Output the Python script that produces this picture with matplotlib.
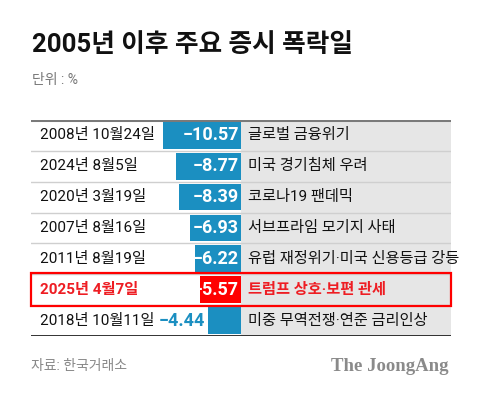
import matplotlib
matplotlib.use("Agg")
import matplotlib.pyplot as plt
from matplotlib.patches import Rectangle

plt.rcParams['font.family'] = ['Roboto', 'Noto Sans CJK KR', 'DejaVu Sans']

dates = ["2008년 10월24일", "2024년 8월5일", "2020년 3월19일", "2007년 8월16일",
         "2011년 8월19일", "2025년 4월7일", "2018년 10월11일"]
values = [-10.57, -8.77, -8.39, -6.93, -6.22, -5.57, -4.44]
events = ["글로벌 금융위기", "미국 경기침체 우려", "코로나19 팬데믹", "서브프라임 모기지 사태",
          "유럽 재정위기·미국 신용등급 강등", "트럼프 상호·보편 관세", "미중 무역전쟁·연준 금리인상"]
highlight = 5

blue = "#1b8fc1"
red = "#ff0000"
red_text = "#ee1d23"

fig = plt.figure(figsize=(4.8, 3.93), dpi=100)
fig.text(0.066, 0.885, "2005년 이후 주요 증시 폭락일", fontsize=18.5, fontweight="bold",
         va="center", ha="left", color="#111111")
fig.text(0.066, 0.797, "단위 : %", fontsize=10, va="center", ha="left", color="#777777")
fig.text(0.064, 0.068, "자료: 한국거래소", fontsize=10, va="center", ha="left", color="#888888")
fig.text(0.935, 0.068, "The JoongAng", fontsize=13.5, fontweight="bold", va="center",
         ha="right", color="#8a8a8a", family="Liberation Serif")

ax = fig.add_axes([0.0646, 0.145, 0.875, 0.55])
xmin, xmax = -28.4, 28.4
ax.set_xlim(xmin, xmax)
ax.set_ylim(len(values) - 0.5, -0.5)
ax.axis("off")

ax.axvspan(0, xmax, color="#e6e6e6", zorder=0)
for i in range(1, len(values)):
    ax.axhline(i - 0.5, color="#cfcfcf", lw=1.0, zorder=1)
ax.axhline(-0.5, color="#7a7a7a", lw=2.2, zorder=3)
ax.axhline(len(values) - 0.5, color="#111111", lw=1.2, zorder=3)

colors = [red if i == highlight else blue for i in range(len(values))]
ax.barh(range(len(values)), values, height=0.87, color=colors, zorder=2)

for i, (d, v, e) in enumerate(zip(dates, values, events)):
    hl = i == highlight
    tc = red_text if hl else "#111111"
    fw = "bold" if hl else "normal"
    ax.text(-27.2, i, d, fontsize=11, va="center", ha="left", color=tc, fontweight=fw)
    ax.text(0.95, i, e, fontsize=11, va="center", ha="left", color=tc, fontweight=fw)
    label = "\u2212" + f"{abs(v):.2f}"
    if abs(v) > 5:
        ax.text(-0.25, i, label, fontsize=13, va="center", ha="right", color="white",
                fontweight="bold")
    else:
        ax.text(v - 0.4, i, label, fontsize=13, va="center", ha="right", color=blue,
                fontweight="bold")

ax.add_patch(Rectangle((xmin + 0.05, highlight - 0.53), xmax - xmin - 0.1, 1.06,
                       fill=False, edgecolor=red, lw=1.6, zorder=4, clip_on=False))

fig.savefig("out.png", dpi=100)
